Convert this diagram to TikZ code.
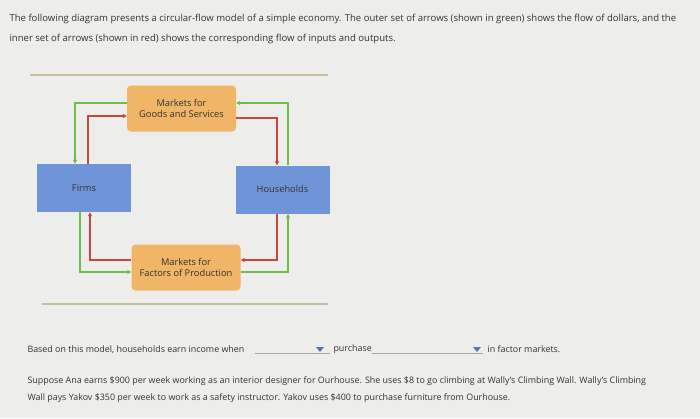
\documentclass[tikz,border=0pt]{standalone}
\usepackage{fontspec}
\setmainfont{Open Sans}
\usetikzlibrary{arrows.meta}
\definecolor{bg}{HTML}{EDEDEB}
\definecolor{txt}{HTML}{333333}
\definecolor{orb}{HTML}{F0B566}
\definecolor{blb}{HTML}{6F95D8}
\definecolor{gr}{HTML}{6CC04A}
\definecolor{rd}{HTML}{C8463E}
\definecolor{tan}{HTML}{C9BE9A}
\begin{document}
\begin{tikzpicture}[x=1pt,y=-1pt,
  every node/.style={text=txt,font=\fontsize{8.9}{10}\selectfont},
  top/.style={font=\fontsize{9.55}{11}\selectfont},
  mkt/.style={fill=orb,rounded corners=4pt,minimum width=109pt,minimum height=46pt,align=center,font=\fontsize{9.3}{10.5}\selectfont},
  agent/.style={fill=blb,minimum width=94pt,minimum height=48pt,font=\fontsize{9.3}{10.5}\selectfont},
  gflow/.style={draw=gr,line width=1.4pt,-{Triangle[length=4pt,width=4pt]}},
  rflow/.style={draw=rd,line width=1.4pt,-{Triangle[length=4pt,width=4pt]}},
  sep/.style={draw=tan,line width=2pt},
  ddl/.style={draw=gray!70,line width=0.6pt}]
\fill[bg] (0,0) rectangle (700,418);
\useasboundingbox (0,0) rectangle (700,418);
\node[anchor=west,top] (t1) at (6,19) {The following diagram presents a circular-flow model of a simple economy. The outer set of arrows (shown in green) shows the flow of dollars, and the};
\node[anchor=west,top] (t2) at (6,39) {inner set of arrows (shown in red) shows the corresponding flow of inputs and outputs.};
\draw[sep] (30,75) -- (328,75);
\draw[sep] (42,304) -- (328,304);
\node[mkt] (goods) at (181.5,108.5) {Markets for\\Goods and Services};
\node[mkt] (fact) at (186,267.5) {Markets for\\Factors of Production};
\node[agent] (firms) at (84,188) {Firms};
\node[agent] (hh) at (282.5,189.5) {Households};
\draw[gflow] (goods.west |- 0,103) -| (firms.north -| 75,0);
\draw[rflow] (firms.north -| 88,0) |- (goods.west |- 0,116);
\draw[rflow] (goods.east |- 0,118) -| (hh.north -| 277,0);
\draw[gflow] (hh.north -| 288,0) |- (goods.east |- 0,103);
\draw[gflow] (firms.south -| 80,0) |- (fact.west |- 0,272);
\draw[rflow] (fact.west |- 0,260) -| (firms.south -| 90,0);
\draw[rflow] (hh.south -| 277,0) |- (fact.east |- 0,260);
\draw[gflow] (fact.east |- 0,272) -| (hh.south -| 288,0);
\node[anchor=west] (q1) at (24,350) {Based on this model, households earn income when};
\coordinate (d1a) at (255,353); \coordinate (d1b) at (330,353);
\draw[ddl] (d1a) -- (d1b);
\fill[blb!80!black] (316,347) -- (324,347) -- (320,352) -- cycle;
\node[anchor=west] (q2) at (330,349) {purchase};
\coordinate (d2a) at (372,353); \coordinate (d2b) at (483,353);
\draw[ddl] (d2a) -- (d2b);
\fill[blb!80!black] (473,347) -- (481,347) -- (477,352) -- cycle;
\node[anchor=west] (q3) at (484,349) {in factor markets.};
\node[anchor=west] (s1) at (24,381) {Suppose Ana earns \$900 per week working as an interior designer for Ourhouse. She uses \$8 to go climbing at Wally's Climbing Wall. Wally's Climbing};
\node[anchor=west] (s2) at (24,398) {Wall pays Yakov \$350 per week to work as a safety instructor. Yakov uses \$400 to purchase furniture from Ourhouse.};
\end{tikzpicture}
\end{document}
